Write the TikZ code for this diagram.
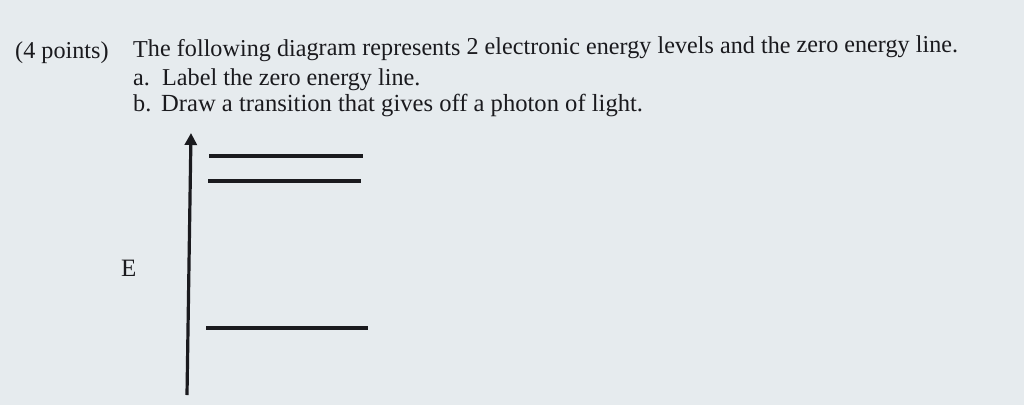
\documentclass[tikz,border=0pt]{standalone}
\usepackage{fontspec}
\setmainfont{Liberation Serif}
\usepackage{tikz}
\usetikzlibrary{positioning,calc,arrows.meta}
\definecolor{paper}{HTML}{E6EBEE}
\definecolor{ink}{HTML}{1A1A1E}

\begin{document}
\begin{tikzpicture}[x=1pt,y=-1pt,
	txt/.style={anchor=base west, inner sep=0pt, text=ink, font=\fontsize{24.2}{27}\selectfont},
	level/.style={draw=ink, line width=3.4pt},
	axis/.style={draw=ink, line width=3.2pt, -{Triangle[length=12pt,width=12pt]}}]
	\fill[paper] (0,0) rectangle (1024,405);
	\useasboundingbox (0,0) rectangle (1024,405);
	\node [txt] (pts) at (15, 58) {(4 points)};
	\node [txt, rotate=0.35] (q) at (133, 57) {The following diagram represents 2 electronic energy levels and the zero energy line.};
	\node [txt] (a) at (133, 85) {a.};
	\node [txt] (qa) at (162, 85) {Label the zero energy line.};
	\node [txt] (b) at (133, 111) {b.};
	\node [txt, font=\fontsize{24.6}{27}\selectfont] (qb) at (161, 111) {Draw a transition that gives off a photon of light.};
	\node [txt, font=\fontsize{25}{27}\selectfont] (E) at (121, 276) {E};
	% energy axis and levels
	\coordinate (A0) at (187, 395);
	\coordinate (A1) at (191, 133);
	\path [axis] (A0) -- (A1);
	\path [level] (209, 156) -- (363, 156);
	\path [level] (208, 181) -- (361, 181);
	\path [level] (206, 328) -- (368, 328);
\end{tikzpicture}
\end{document}
